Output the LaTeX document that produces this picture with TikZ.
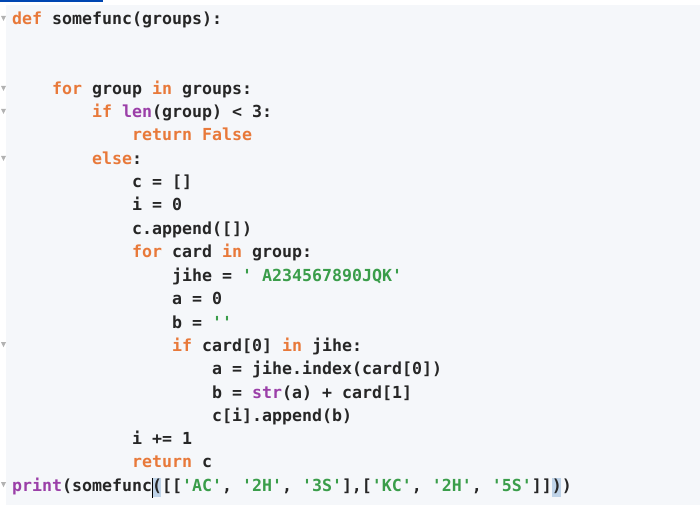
\documentclass[tikz,border=0pt]{standalone}
\usepackage{fontspec}
\setmonofont{DejaVu Sans Mono}
\definecolor{kw}{HTML}{E8793A}
\definecolor{bi}{HTML}{9B3FA8}
\definecolor{st}{HTML}{3A9D4A}
\definecolor{bg}{HTML}{F5F7FA}
\definecolor{sel}{HTML}{BFD3E8}
\newcommand{\K}[1]{\textcolor{kw}{#1}}
\newcommand{\B}[1]{\textcolor{bi}{#1}}
\newcommand{\Sq}[1]{\textcolor{st}{#1}}
\begin{document}
\begin{tikzpicture}[x=1pt,y=-1pt,
  code/.style={anchor=base west,inner sep=0pt,font=\ttfamily\bfseries\fontsize{16.6}{18}\selectfont,text=black!85},
  fold/.style={fill=black!30,draw=none}]
\useasboundingbox (0,0) rectangle (700,518);
\fill[white] (0,0) rectangle (700,518);
\fill[bg] (6,5) rectangle (700,505);
\draw[blue!60!cyan!70!black,line width=1.5pt] (0,1) -- (103,1);
\def\L#1#2#3{\node[code] (#1) at (12+10*#2,#3+6) {#1x};}
% lines
\node[code] (l1) at (12,25) {\K{def} somefunc(groups):};
\node[code] (l2) at (52,95) {\K{for} group \K{in} groups:};
\node[code] (l3) at (92,118) {\K{if} \B{len}(group) < 3:};
\node[code] (l4) at (132,141) {\K{return} \K{False}};
\node[code] (l5) at (92,165) {\K{else}:};
\node[code] (l6) at (132,188) {c = []};
\node[code] (l7) at (132,211) {i = 0};
\node[code] (l8) at (132,235) {c.append([])};
\node[code] (l9) at (132,258) {\K{for} card \K{in} group:};
\node[code] (l10) at (172,281) {jihe = \Sq{' A234567890JQK'}};
\node[code] (l11) at (172,304) {a = 0};
\node[code] (l12) at (172,328) {b = \Sq{''}};
\node[code] (l13) at (172,351) {\K{if} card[0] \K{in} jihe:};
\node[code] (l14) at (212,374) {a = jihe.index(card[0])};
\node[code] (l15) at (212,398) {b = \B{str}(a) + card[1]};
\node[code] (l16) at (212,421) {c[i].append(b)};
\node[code] (l17) at (132,444) {i += 1};
\node[code] (l18) at (132,467) {\K{return} c};
\fill[sel] (152,478) rectangle (161,497);
\fill[sel] (552,478) rectangle (561,497);
\draw[black,line width=1pt] (152,478) -- (152,498);
\node[code] (l19) at (12,491) {\B{print}(somefunc([[\Sq{'AC'}, \Sq{'2H'}, \Sq{'3S'}],[\Sq{'KC'}, \Sq{'2H'}, \Sq{'5S'}]]))};
\foreach \y in {19,89,112,159,345,485}{\fill[fold] (1,\y-3) -- (6,\y-3) -- (3.5,\y+2) -- cycle;}
\end{tikzpicture}
\end{document}
